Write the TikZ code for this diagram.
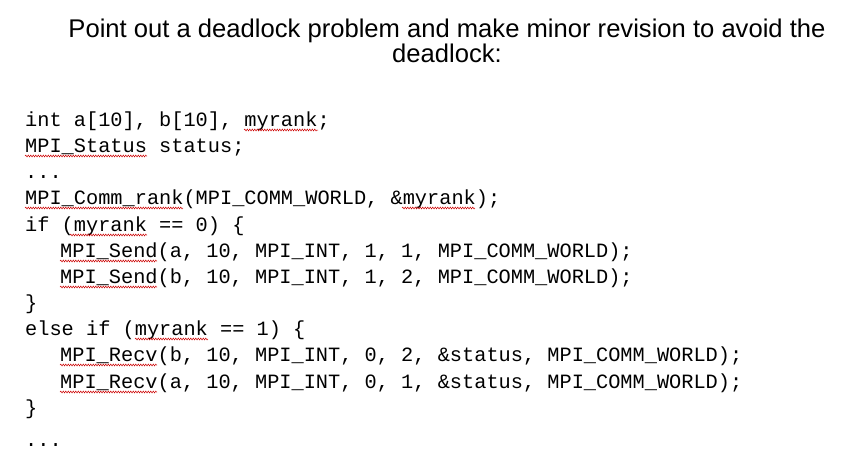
\documentclass[tikz,border=0pt]{standalone}
\usepackage{fontspec}
\setmainfont{Liberation Sans}
\setmonofont{Liberation Mono}
\usetikzlibrary{decorations.pathmorphing}
\begin{document}
\begin{tikzpicture}[x=1pt,y=-1pt,
  title/.style={font=\fontsize{25.6}{25}\selectfont, align=center, inner sep=0pt},
  code/.style={font=\fontsize{20.3}{24}\ttfamily, anchor=base west, inner sep=0pt},
  squig/.style={draw=red!80!black, line width=0.5pt, decorate, decoration={snake, amplitude=0.9pt, segment length=2.5pt}}]
\useasboundingbox (0,0) rectangle (845,466);
\node[title] (t) at (447,41) {Point out a deadlock problem and make minor revision to avoid the\\deadlock:};
\node[code] (l1) at (25,126) {int a[10], b[10], myrank;};
\node[code] (l2) at (25,152) {MPI\_Status status;};
\node[code] (l3) at (25,178) {...};
\node[code] (l4) at (25,204) {MPI\_Comm\_rank(MPI\_COMM\_WORLD, \&myrank);};
\node[code] (l5) at (25,231) {if (myrank == 0) \{};
\node[code] (l6) at (60,257) {MPI\_Send(a, 10, MPI\_INT, 1, 1, MPI\_COMM\_WORLD);};
\node[code] (l7) at (60,283) {MPI\_Send(b, 10, MPI\_INT, 1, 2, MPI\_COMM\_WORLD);};
\node[code] (l8) at (25,309) {\}};
\node[code] (l9) at (25,335) {else if (myrank == 1) \{};
\node[code] (l10) at (60,361) {MPI\_Recv(b, 10, MPI\_INT, 0, 2, \&status, MPI\_COMM\_WORLD);};
\node[code] (l11) at (60,388) {MPI\_Recv(a, 10, MPI\_INT, 0, 1, \&status, MPI\_COMM\_WORLD);};
\node[code] (l12) at (25,414) {\}};
\node[code] (l13) at (25,446) {...};
% spell-check underlines
\path[squig] (244,130) -- (318,130);
\path[squig] (25,156) -- (147,156);
\path[squig] (25,208) -- (183,208);
\path[squig] (402,208) -- (475,208);
\path[squig] (70,235) -- (147,235);
\path[squig] (60,261) -- (157,261);
\path[squig] (60,287) -- (157,287);
\path[squig] (135,339) -- (208,339);
\path[squig] (60,365) -- (157,365);
\path[squig] (60,392) -- (157,392);
\end{tikzpicture}
\end{document}
